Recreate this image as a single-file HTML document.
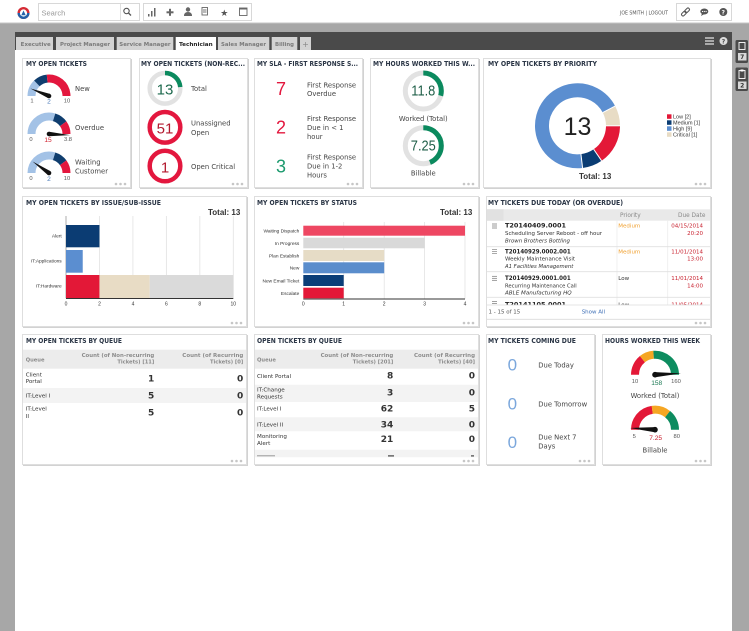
<!DOCTYPE html>
<html><head><meta charset="utf-8"><title>Dashboard</title>
<style>
html,body{margin:0;padding:0;background:#fff;overflow:hidden}
svg{display:block}
text{font-family:"DejaVu Sans","Liberation Sans",sans-serif;fill:#444}
.t{font-weight:bold;font-size:6.8px;fill:#2b3646}
.l{font-size:6.8px;fill:#444}
.a{font-family:"Liberation Sans",sans-serif;font-size:5px;fill:#333}
.g{font-family:"Liberation Sans",sans-serif;font-size:5.8px;fill:#555}
.gv{font-family:"Liberation Sans",sans-serif;font-size:6.6px}
.tab{font-weight:bold;font-size:5.3px;fill:#7a7a7a}
.hd{font-weight:bold;font-size:5.2px;fill:#8c8c8c}
.q{font-size:5.6px;fill:#333}
.n{font-weight:bold;font-size:9px;fill:#333}
.tot{font-family:"Liberation Sans",sans-serif;font-weight:bold;font-size:8px;fill:#333}
.id{font-weight:bold;font-size:6.2px;fill:#222}
.d{font-size:5.2px;fill:#333}
.di{font-size:5.2px;fill:#333;font-style:italic}
.p{font-size:5.5px}
.big{font-family:"Liberation Sans",sans-serif}
</style></head><body>
<svg width="749" height="631" viewBox="0 0 749 631" xmlns="http://www.w3.org/2000/svg">
<!-- backgrounds -->
<rect width="749" height="631" fill="#a7a7a7"/>
<rect x="0" y="0" width="749" height="23" fill="#fff"/>
<rect x="0" y="22.5" width="749" height="1" fill="#c6c6c6"/>
<rect x="15" y="32" width="717" height="18" fill="#4a4a4a"/>
<rect x="15" y="50" width="717" height="581" fill="#fff"/>

<!-- top bar -->
<circle cx="23.5" cy="13" r="6" fill="#d52b35"/>
<path d="M17.5 13 A6 6 0 0 0 29.5 13 Z" fill="#2460a8"/>
<circle cx="23.5" cy="13" r="3.6" fill="#fff"/>
<path d="M21.3 15.3 L23.5 10.5 L25.7 15.3 Z" fill="#2460a8"/>
<rect x="38.5" y="3.5" width="101" height="17" fill="#fff" stroke="#d8d8d8"/>
<text x="41.5" y="15.5" style="font-family:'Liberation Sans',sans-serif;font-size:7.5px;fill:#9a9a9a">Search</text>
<line x1="120.5" y1="4" x2="120.5" y2="20" stroke="#e0e0e0"/>
<circle cx="126.5" cy="11" r="2.7" fill="none" stroke="#555" stroke-width="1.1"/>
<line x1="128.5" y1="13" x2="131" y2="15.5" stroke="#555" stroke-width="1.3"/>
<rect x="143.5" y="3.5" width="108" height="17" fill="#fff" stroke="#d8d8d8"/>
<g fill="#666">
<rect x="148" y="14" width="1.5" height="2.5"/><rect x="151" y="11" width="1.5" height="5.5"/><rect x="154" y="8" width="1.5" height="8.5"/>
<rect x="166.5" y="11.3" width="7" height="2"/><rect x="169" y="8.8" width="2" height="7"/>
<circle cx="188" cy="9.5" r="2.2"/><path d="M184 16 Q184 12 188 12 Q192 12 192 16 Z"/>
<rect x="239.5" y="8" width="7.5" height="1.5"/>
</g>
<g fill="none" stroke="#666" stroke-width="0.9">
<rect x="202" y="7.5" width="5.5" height="7.5"/><line x1="203" y1="10" x2="206.5" y2="10"/><line x1="203" y1="12" x2="206.5" y2="12"/>
<rect x="239.5" y="8" width="7.5" height="7.5"/>
</g>
<text x="224.3" y="16" text-anchor="middle" style="font-size:9px;fill:#555">★</text>
<text x="620" y="14.5" textLength="48" lengthAdjust="spacingAndGlyphs" style="font-size:4.8px;fill:#555">JOE SMITH | LOGOUT</text>
<rect x="676.5" y="3.5" width="55" height="17" fill="#fff" stroke="#d8d8d8"/>
<g transform="translate(685.5 12) rotate(-45)" fill="none" stroke="#555" stroke-width="1"><rect x="-5" y="-1.5" width="5.5" height="3" rx="1.5"/><rect x="-0.5" y="-1.5" width="5.5" height="3" rx="1.5"/></g>
<ellipse cx="704.3" cy="11.5" rx="4" ry="3" fill="#555"/><path d="M702 13.5 L701 16 L704.5 14 Z" fill="#555"/>
<circle cx="702.5" cy="11.5" r="0.6" fill="#fff"/><circle cx="704.3" cy="11.5" r="0.6" fill="#fff"/><circle cx="706.1" cy="11.5" r="0.6" fill="#fff"/>
<circle cx="723.3" cy="12" r="4" fill="#555"/>
<text x="723.3" y="14.3" text-anchor="middle" style="font-size:6px;font-weight:bold;fill:#fff">?</text>

<!-- tabs -->
<rect x="16" y="37" width="37" height="13" fill="#d3d3d3"/>
<rect x="56" y="37" width="58" height="13" fill="#d3d3d3"/>
<rect x="116.7" y="37" width="56.6" height="13" fill="#d3d3d3"/>
<rect x="175.7" y="37" width="40.3" height="13" fill="#fff"/>
<rect x="218" y="37" width="51.3" height="13" fill="#d3d3d3"/>
<rect x="271.7" y="37" width="25.6" height="13" fill="#d3d3d3"/>
<rect x="300" y="37" width="11" height="13" fill="#d3d3d3"/>
<text class="tab" x="20.7" y="46" textLength="30" lengthAdjust="spacingAndGlyphs">Executive</text>
<text class="tab" x="60" y="46" textLength="50" lengthAdjust="spacingAndGlyphs">Project Manager</text>
<text class="tab" x="119.3" y="46" textLength="51.3" lengthAdjust="spacingAndGlyphs">Service Manager</text>
<text class="tab" x="179" y="46" textLength="33.7" lengthAdjust="spacingAndGlyphs" style="fill:#222">Technician</text>
<text class="tab" x="221" y="46" textLength="45" lengthAdjust="spacingAndGlyphs">Sales Manager</text>
<text class="tab" x="275" y="46" textLength="19" lengthAdjust="spacingAndGlyphs">Billing</text>
<text x="305.5" y="47" text-anchor="middle" style="font-size:8px;fill:#888">+</text>
<g stroke="#dcdcdc" stroke-width="1.3"><line x1="705" y1="38" x2="714" y2="38"/><line x1="705" y1="41" x2="714" y2="41"/><line x1="705" y1="44" x2="714" y2="44"/></g>
<circle cx="723.5" cy="41" r="4" fill="#dcdcdc"/>
<text x="723.5" y="43.3" text-anchor="middle" style="font-size:6px;font-weight:bold;fill:#4a4a4a">?</text>

<!-- right strip icons -->
<rect x="735.5" y="40" width="12.5" height="23" rx="1.5" fill="#4a4a4a"/>
<rect x="739" y="42.5" width="6" height="7" fill="none" stroke="#fff" stroke-width="0.9"/>
<rect x="738" y="53" width="8.5" height="7.5" fill="#d8d8d8"/>
<text x="742.2" y="59.2" text-anchor="middle" style="font-size:6px;font-weight:bold;fill:#333">7</text>
<rect x="735.5" y="67.5" width="12.5" height="23.5" rx="1.5" fill="#4a4a4a"/>
<rect x="739" y="70.5" width="6" height="8" fill="none" stroke="#fff" stroke-width="0.9"/>
<rect x="740.5" y="69.5" width="3" height="2" fill="#fff"/>
<rect x="738" y="81.5" width="8.5" height="7.5" fill="#d8d8d8"/>
<text x="742.2" y="87.7" text-anchor="middle" style="font-size:6px;font-weight:bold;fill:#333">2</text>

<!-- widget frames -->
<g fill="#d2d2d2">
<rect x="23" y="59" width="109" height="130"/><rect x="140" y="59" width="109" height="130"/>
<rect x="255" y="59" width="109" height="130"/><rect x="371" y="59" width="109" height="130"/>
<rect x="484" y="59" width="228" height="130"/>
<rect x="23" y="197" width="225" height="131"/><rect x="255" y="197" width="225" height="131"/>
<rect x="487" y="197" width="225" height="131"/>
<rect x="23" y="335" width="225" height="131"/><rect x="255" y="335" width="225" height="131"/>
<rect x="487" y="335" width="109" height="131"/><rect x="603" y="335" width="109" height="131"/>
</g>
<g fill="#fff" stroke="#dedede">
<rect x="22.5" y="58.5" width="108" height="129"/><rect x="139.5" y="58.5" width="108" height="129"/>
<rect x="254.5" y="58.5" width="108" height="129"/><rect x="370.5" y="58.5" width="108" height="129"/>
<rect x="483.5" y="58.5" width="227" height="129"/>
<rect x="22.5" y="196.5" width="224" height="130"/><rect x="254.5" y="196.5" width="224" height="130"/>
<rect x="486.5" y="196.5" width="224" height="130"/>
<rect x="22.5" y="334.5" width="224" height="130"/><rect x="254.5" y="334.5" width="224" height="130"/>
<rect x="486.5" y="334.5" width="108" height="130"/><rect x="602.5" y="334.5" width="108" height="130"/>
</g>

<!-- dots -->
<g fill="#c6c6c6">
<circle cx="116" cy="184" r="1.3"/><circle cx="120.5" cy="184" r="1.3"/><circle cx="125" cy="184" r="1.3"/>
<circle cx="233" cy="184" r="1.3"/><circle cx="237.5" cy="184" r="1.3"/><circle cx="242" cy="184" r="1.3"/>
<circle cx="348" cy="184" r="1.3"/><circle cx="352.5" cy="184" r="1.3"/><circle cx="357" cy="184" r="1.3"/>
<circle cx="464" cy="184" r="1.3"/><circle cx="468.5" cy="184" r="1.3"/><circle cx="473" cy="184" r="1.3"/>
<circle cx="696" cy="184" r="1.3"/><circle cx="700.5" cy="184" r="1.3"/><circle cx="705" cy="184" r="1.3"/>
<circle cx="232" cy="323" r="1.3"/><circle cx="236.5" cy="323" r="1.3"/><circle cx="241" cy="323" r="1.3"/>
<circle cx="464" cy="323" r="1.3"/><circle cx="468.5" cy="323" r="1.3"/><circle cx="473" cy="323" r="1.3"/>
<circle cx="696" cy="323" r="1.3"/><circle cx="700.5" cy="323" r="1.3"/><circle cx="705" cy="323" r="1.3"/>
<circle cx="232" cy="461" r="1.3"/><circle cx="236.5" cy="461" r="1.3"/><circle cx="241" cy="461" r="1.3"/>
<circle cx="464" cy="461" r="1.3"/><circle cx="468.5" cy="461" r="1.3"/><circle cx="473" cy="461" r="1.3"/>
<circle cx="580" cy="461" r="1.3"/><circle cx="584.5" cy="461" r="1.3"/><circle cx="589" cy="461" r="1.3"/>
<circle cx="696" cy="461" r="1.3"/><circle cx="700.5" cy="461" r="1.3"/><circle cx="705" cy="461" r="1.3"/>
</g>

<!-- titles -->
<text class="t" x="26" y="66" textLength="61" lengthAdjust="spacingAndGlyphs">MY OPEN TICKETS</text>
<text class="t" x="141" y="66" textLength="104" lengthAdjust="spacingAndGlyphs">MY OPEN TICKETS (NON-REC...</text>
<text class="t" x="257" y="66" textLength="101" lengthAdjust="spacingAndGlyphs">MY SLA - FIRST RESPONSE S...</text>
<text class="t" x="373" y="66" textLength="102" lengthAdjust="spacingAndGlyphs">MY HOURS WORKED THIS W...</text>
<text class="t" x="488" y="66" textLength="109" lengthAdjust="spacingAndGlyphs">MY OPEN TICKETS BY PRIORITY</text>
<text class="t" x="26" y="205" textLength="135" lengthAdjust="spacingAndGlyphs">MY OPEN TICKETS BY ISSUE/SUB-ISSUE</text>
<text class="t" x="257" y="205" textLength="100" lengthAdjust="spacingAndGlyphs">MY OPEN TICKETS BY STATUS</text>
<text class="t" x="488" y="205" textLength="135" lengthAdjust="spacingAndGlyphs">MY TICKETS DUE TODAY (OR OVERDUE)</text>
<text class="t" x="26" y="343" textLength="96" lengthAdjust="spacingAndGlyphs">MY OPEN TICKETS BY QUEUE</text>
<text class="t" x="257" y="343" textLength="85" lengthAdjust="spacingAndGlyphs">OPEN TICKETS BY QUEUE</text>
<text class="t" x="488" y="343" textLength="88" lengthAdjust="spacingAndGlyphs">MY TICKETS COMING DUE</text>
<text class="t" x="605" y="343" textLength="95" lengthAdjust="spacingAndGlyphs">HOURS WORKED THIS WEEK</text>

<!-- W1 gauges -->
<g fill="none" stroke-width="8">
<circle cx="49" cy="96" r="17.5" stroke="#a3c2e6" stroke-dasharray="14.05 200" transform="rotate(180 49 96)"/>
<circle cx="49" cy="96" r="17.5" stroke="#0f3d6e" stroke-dasharray="11.61 200" transform="rotate(226 49 96)"/>
<circle cx="49" cy="96" r="17.5" stroke="#e3173e" stroke-dasharray="29.32 200" transform="rotate(264 49 96)"/>
<circle cx="49" cy="134" r="17.5" stroke="#a3c2e6" stroke-dasharray="32.68 200" transform="rotate(180 49 134)"/>
<circle cx="49" cy="134" r="17.5" stroke="#0f3d6e" stroke-dasharray="11.30 200" transform="rotate(287 49 134)"/>
<circle cx="49" cy="134" r="17.5" stroke="#e3173e" stroke-dasharray="11.0 200" transform="rotate(324 49 134)"/>
<circle cx="49" cy="173" r="17.5" stroke="#a3c2e6" stroke-dasharray="32.68 200" transform="rotate(180 49 173)"/>
<circle cx="49" cy="173" r="17.5" stroke="#0f3d6e" stroke-dasharray="11.30 200" transform="rotate(287 49 173)"/>
<circle cx="49" cy="173" r="17.5" stroke="#e3173e" stroke-dasharray="11.0 200" transform="rotate(324 49 173)"/>
</g>
<g fill="#111">
<g transform="translate(49 96) rotate(-158)"><polygon points="0,-2.3 20,0 0,2.3"/><circle r="2.3"/></g>
<g transform="translate(49 134) rotate(3)"><polygon points="0,-2.3 21,0 0,2.3"/><circle r="2.3"/></g>
<g transform="translate(49 173) rotate(-145)"><polygon points="0,-2.3 20,0 0,2.3"/><circle r="2.3"/></g>
</g>
<text class="g" x="32" y="102.7" text-anchor="middle">1</text>
<text class="gv" x="49" y="103.5" text-anchor="middle" style="fill:#4a7ab8">2</text>
<text class="g" x="67" y="102.7" text-anchor="middle">10</text>
<text class="g" x="31" y="141" text-anchor="middle">0</text>
<text class="gv" x="48" y="142" text-anchor="middle" style="fill:#d0202e">15</text>
<text class="g" x="68" y="141" text-anchor="middle">3.8</text>
<text class="g" x="31" y="180" text-anchor="middle">0</text>
<text class="gv" x="49" y="181" text-anchor="middle" style="fill:#4a7ab8">2</text>
<text class="g" x="67" y="180" text-anchor="middle">10</text>
<text class="l" x="75" y="91">New</text>
<text class="l" x="75" y="130">Overdue</text>
<text class="l" x="75" y="164.3">Waiting</text>
<text class="l" x="75" y="173.3">Customer</text>

<!-- W2 rings -->
<g fill="none" stroke-width="4.5">
<circle cx="165" cy="88.3" r="15.3" stroke="#e2e2e2"/>
<circle cx="165" cy="88.3" r="15.3" stroke="#0b8a5e" stroke-dasharray="22.7 200" transform="rotate(-90 165 88.3)"/>
<circle cx="165" cy="127.3" r="15.3" stroke="#e3173e"/>
<circle cx="165" cy="166" r="15.3" stroke="#e3173e"/>
</g>
<text class="big" x="165" y="94.3" text-anchor="middle" style="font-size:15px;fill:#1e6a4e">13</text>
<text class="big" x="165" y="133.6" text-anchor="middle" style="font-size:15px;fill:#b3192f">51</text>
<text class="big" x="165" y="172.3" text-anchor="middle" style="font-size:15px;fill:#b3192f">1</text>
<text class="l" x="191" y="91">Total</text>
<text class="l" x="191" y="125.7">Unassigned</text>
<text class="l" x="191" y="135">Open</text>
<text class="l" x="191" y="169">Open Critical</text>

<!-- W3 SLA -->
<text class="big" x="281" y="95" text-anchor="middle" style="font-size:18px;fill:#e3173e">7</text>
<text class="big" x="281" y="133.3" text-anchor="middle" style="font-size:18px;fill:#e3173e">2</text>
<text class="big" x="281" y="172.3" text-anchor="middle" style="font-size:18px;fill:#1c9a6e">3</text>
<text class="l" x="307" y="87.3">First Response</text>
<text class="l" x="307" y="96">Overdue</text>
<text class="l" x="307" y="121">First Response</text>
<text class="l" x="307" y="130">Due in &lt; 1</text>
<text class="l" x="307" y="139">hour</text>
<text class="l" x="307" y="159.3">First Response</text>
<text class="l" x="307" y="168.3">Due in 1-2</text>
<text class="l" x="307" y="177.3">Hours</text>

<!-- W4 hours rings -->
<g fill="none" stroke-width="5">
<circle cx="423.3" cy="91" r="18" stroke="#e2e2e2"/>
<circle cx="423.3" cy="91" r="18" stroke="#0b8a5e" stroke-dasharray="32.99 200" transform="rotate(-90 423.3 91)"/>
<circle cx="423.3" cy="145.7" r="18" stroke="#e2e2e2"/>
<circle cx="423.3" cy="145.7" r="18" stroke="#0b8a5e" stroke-dasharray="49.64 200" transform="rotate(-90 423.3 145.7)"/>
</g>
<text class="big" x="423.3" y="95.7" text-anchor="middle" textLength="24" lengthAdjust="spacingAndGlyphs" style="font-size:14.5px;fill:#1e5e47">11.8</text>
<text class="big" x="423.3" y="150.5" text-anchor="middle" textLength="25" lengthAdjust="spacingAndGlyphs" style="font-size:14.5px;fill:#1e5e47">7.25</text>
<text class="l" x="423.3" y="121" text-anchor="middle">Worked (Total)</text>
<text class="l" x="423.3" y="175.7" text-anchor="middle">Billable</text>

<!-- W5 donut -->
<g fill="none" stroke-width="14">
<circle cx="577.5" cy="125.8" r="35.5" stroke="#5b8ed0" stroke-dasharray="154.4 400" transform="rotate(83.1 577.5 125.8)"/>
<circle cx="577.5" cy="125.8" r="35.5" stroke="#e8dcc5" stroke-dasharray="17.16 400" transform="rotate(332.3 577.5 125.8)"/>
<circle cx="577.5" cy="125.8" r="35.5" stroke="#e31837" stroke-dasharray="34.33 400" transform="rotate(0 577.5 125.8)"/>
<circle cx="577.5" cy="125.8" r="35.5" stroke="#0a3c73" stroke-dasharray="17.16 400" transform="rotate(55.4 577.5 125.8)"/>
</g>
<g stroke="#fff" stroke-width="1">
<line x1="602.73" y1="112.55" x2="615.13" y2="106.05"/>
<line x1="606" y1="125.8" x2="620" y2="125.8"/>
<line x1="593.68" y1="149.26" x2="601.63" y2="160.78"/>
<line x1="580.92" y1="154.09" x2="582.6" y2="168"/>
</g>
<text class="big" x="577.5" y="135" text-anchor="middle" style="font-size:25px;fill:#222">13</text>
<text class="tot" x="579" y="179">Total:  13</text>
<rect x="667" y="114.3" width="4.5" height="4.5" fill="#e31837"/>
<rect x="667" y="120.3" width="4.5" height="4.5" fill="#0a3c73"/>
<rect x="667" y="126.3" width="4.5" height="4.5" fill="#5b8ed0"/>
<rect x="667" y="132.3" width="4.5" height="4.5" fill="#e8dcc5"/>
<text class="a" x="673" y="118.5" style="font-size:5.5px">Low [2]</text>
<text class="a" x="673" y="124.5" style="font-size:5.5px">Medium [1]</text>
<text class="a" x="673" y="130.5" style="font-size:5.5px">High [9]</text>
<text class="a" x="673" y="136.5" style="font-size:5.5px">Critical [1]</text>

<!-- W6 issue chart -->
<text class="tot" x="208" y="215">Total:  13</text>
<g stroke="#e2e2e2" stroke-width="0.8">
<line x1="99.46" y1="216" x2="99.46" y2="298"/><line x1="132.92" y1="216" x2="132.92" y2="298"/>
<line x1="166.38" y1="216" x2="166.38" y2="298"/><line x1="199.84" y1="216" x2="199.84" y2="298"/>
<line x1="233.3" y1="216" x2="233.3" y2="298"/>
</g>
<line x1="66" y1="216" x2="66" y2="298.3" stroke="#999" stroke-width="0.8"/>
<rect x="66" y="225" width="33.46" height="22.3" fill="#0b3c73"/>
<rect x="66" y="250" width="16.73" height="22.7" fill="#5b8ed0"/>
<rect x="66" y="275" width="33.46" height="23.3" fill="#e31837"/>
<rect x="99.46" y="275" width="50.19" height="23.3" fill="#e8dcc5"/>
<rect x="149.65" y="275" width="83.65" height="23.3" fill="#dadada"/>
<line x1="66" y1="298.5" x2="233.3" y2="298.5" stroke="#333" stroke-width="1"/>
<text class="a" x="61.7" y="237.3" text-anchor="end" style="font-size:4.8px">Alert</text>
<text class="a" x="61.7" y="262.3" text-anchor="end" style="font-size:4.8px">IT:Applications</text>
<text class="a" x="61.7" y="287.3" text-anchor="end" style="font-size:4.8px">IT:Hardware</text>
<text class="a" x="66" y="305.7" text-anchor="middle">0</text>
<text class="a" x="99.5" y="305.7" text-anchor="middle">2</text>
<text class="a" x="133" y="305.7" text-anchor="middle">4</text>
<text class="a" x="166.4" y="305.7" text-anchor="middle">6</text>
<text class="a" x="199.8" y="305.7" text-anchor="middle">8</text>
<text class="a" x="233.3" y="305.7" text-anchor="middle">10</text>

<!-- W7 status chart -->
<text class="tot" x="440" y="215">Total:  13</text>
<g stroke="#e2e2e2" stroke-width="0.8">
<line x1="343.7" y1="222" x2="343.7" y2="299"/><line x1="384.2" y1="222" x2="384.2" y2="299"/>
<line x1="424.6" y1="222" x2="424.6" y2="299"/><line x1="465" y1="222" x2="465" y2="299"/>
</g>
<rect x="303.3" y="225.7" width="161.7" height="10" fill="#ee4762"/>
<rect x="303.3" y="237.7" width="121.3" height="10.6" fill="#d9d9d9"/>
<rect x="303.3" y="250" width="80.9" height="11" fill="#e6dcc6"/>
<rect x="303.3" y="262.3" width="80.9" height="11" fill="#5a8dcc"/>
<rect x="303.3" y="275" width="40.4" height="11" fill="#0b3e78"/>
<rect x="303.3" y="287.7" width="40.4" height="10.6" fill="#e31837"/>
<line x1="303.3" y1="299" x2="465" y2="299" stroke="#333" stroke-width="1"/>
<text class="a" x="299.3" y="232.5" text-anchor="end" style="font-size:4.8px">Waiting Dispatch</text>
<text class="a" x="299.3" y="244.8" text-anchor="end" style="font-size:4.8px">In Progress</text>
<text class="a" x="299.3" y="257.3" text-anchor="end" style="font-size:4.8px">Plan Establish</text>
<text class="a" x="299.3" y="269.5" text-anchor="end" style="font-size:4.8px">New</text>
<text class="a" x="299.3" y="282.3" text-anchor="end" style="font-size:4.8px">New Email Ticket</text>
<text class="a" x="299.3" y="294.8" text-anchor="end" style="font-size:4.8px">Escalate</text>
<text class="a" x="303.3" y="305.5" text-anchor="middle">0</text>
<text class="a" x="343.7" y="305.5" text-anchor="middle">1</text>
<text class="a" x="384.2" y="305.5" text-anchor="middle">2</text>
<text class="a" x="424.6" y="305.5" text-anchor="middle">3</text>
<text class="a" x="465" y="305.5" text-anchor="middle">4</text>

<!-- W8 due today table -->
<rect x="487" y="209.3" width="223" height="11.4" fill="#e9e9e9"/>
<rect x="487" y="209.3" width="16.5" height="11.4" fill="#e1e1e1"/>
<text x="620" y="217" style="font-size:5.8px;fill:#888">Priority</text>
<text x="678" y="217" style="font-size:5.8px;fill:#888">Due Date</text>
<clipPath id="c8"><rect x="487" y="220.7" width="223" height="84.3"/></clipPath>
<g clip-path="url(#c8)">
<g stroke="#ececec" stroke-width="0.8"><line x1="617" y1="209" x2="617" y2="305"/><line x1="667.7" y1="209" x2="667.7" y2="305"/></g>
<g stroke="#e0e0e0" stroke-width="0.8"><line x1="487" y1="246.7" x2="710" y2="246.7"/><line x1="487" y1="271.7" x2="710" y2="271.7"/><line x1="487" y1="297.3" x2="710" y2="297.3"/></g>
<g stroke="#777" stroke-width="0.7">
<line x1="492" y1="224" x2="497" y2="224"/><line x1="492" y1="226" x2="497" y2="226"/><line x1="492" y1="228" x2="497" y2="228"/>
<line x1="492" y1="249.7" x2="497" y2="249.7"/><line x1="492" y1="251.7" x2="497" y2="251.7"/><line x1="492" y1="253.7" x2="497" y2="253.7"/>
<line x1="492" y1="276.3" x2="497" y2="276.3"/><line x1="492" y1="278.3" x2="497" y2="278.3"/><line x1="492" y1="280.3" x2="497" y2="280.3"/>
<line x1="492" y1="301.5" x2="497" y2="301.5"/><line x1="492" y1="303.5" x2="497" y2="303.5"/>
</g>
<text class="id" x="505" y="227.7" textLength="61" lengthAdjust="spacingAndGlyphs">T20140409.0001</text>
<text class="d" x="505" y="235" textLength="97" lengthAdjust="spacingAndGlyphs">Scheduling Server Reboot - off hour</text>
<text class="di" x="505" y="242.3" textLength="65" lengthAdjust="spacingAndGlyphs">Brown Brothers Bottling</text>
<text class="p" x="618.3" y="227.7" style="fill:#f0a030">Medium</text>
<text class="p" x="703" y="227.7" text-anchor="end" style="fill:#c8202e">04/15/2014</text>
<text class="p" x="703" y="235" text-anchor="end" style="fill:#c8202e">20:20</text>
<text class="id" x="505" y="253.3" textLength="65.7" lengthAdjust="spacingAndGlyphs">T20140929.0002.001</text>
<text class="d" x="505" y="260.7" textLength="70" lengthAdjust="spacingAndGlyphs">Weekly Maintenance Visit</text>
<text class="di" x="505" y="268" textLength="68.3" lengthAdjust="spacingAndGlyphs">A1 Facilities Management</text>
<text class="p" x="618.3" y="253.3" style="fill:#f0a030">Medium</text>
<text class="p" x="703" y="253.3" text-anchor="end" style="fill:#c8202e">11/01/2014</text>
<text class="p" x="703" y="260.7" text-anchor="end" style="fill:#c8202e">13:00</text>
<text class="id" x="505" y="280" textLength="65.7" lengthAdjust="spacingAndGlyphs">T20140929.0001.001</text>
<text class="d" x="505" y="287.3" textLength="71.7" lengthAdjust="spacingAndGlyphs">Recurring Maintenance Call</text>
<text class="di" x="505" y="294.7" textLength="66.7" lengthAdjust="spacingAndGlyphs">ABLE Manufacturing HQ</text>
<text class="p" x="618.3" y="280" style="fill:#333">Low</text>
<text class="p" x="703" y="280" text-anchor="end" style="fill:#c8202e">11/01/2014</text>
<text class="p" x="703" y="287.3" text-anchor="end" style="fill:#c8202e">14:00</text>
<text class="id" x="505" y="306.5" textLength="61" lengthAdjust="spacingAndGlyphs">T20141105.0001</text>
<text class="p" x="618.3" y="306.5" style="fill:#333">Low</text>
<text class="p" x="703" y="306.5" text-anchor="end" style="fill:#c8202e">11/05/2014</text>
</g>
<line x1="487" y1="305" x2="710" y2="305" stroke="#dcdcdc" stroke-width="0.8"/>
<line x1="487" y1="319.3" x2="710" y2="319.3" stroke="#dcdcdc" stroke-width="0.8"/>
<text x="488.5" y="313.5" style="font-size:5.5px;fill:#555">1 - 15 of 15</text>
<text x="581.7" y="313.5" style="font-size:5.5px;fill:#3b6db5">Show All</text>

<!-- W9 queue table -->
<rect x="23" y="349.7" width="223" height="19" fill="#ececec"/>
<rect x="23" y="388" width="223" height="15" fill="#f3f3f3"/>
<text class="hd" x="25.7" y="361.3">Queue</text>
<text class="hd" x="154.3" y="357" text-anchor="end" textLength="72.7" lengthAdjust="spacingAndGlyphs">Count (of Non-recurring</text>
<text class="hd" x="154.3" y="363.7" text-anchor="end">Tickets) [11]</text>
<text class="hd" x="243.3" y="357" text-anchor="end" textLength="61" lengthAdjust="spacingAndGlyphs">Count (of Recurring</text>
<text class="hd" x="243.3" y="363.7" text-anchor="end">Tickets) [0]</text>
<text class="q" x="25.7" y="376.3">Client</text>
<text class="q" x="25.7" y="383">Portal</text>
<text class="q" x="25.7" y="397.3">IT:Level I</text>
<text class="q" x="25.7" y="410.7">IT:Level</text>
<text class="q" x="25.7" y="418">II</text>
<text class="n" x="154.3" y="381.3" text-anchor="end">1</text>
<text class="n" x="243.3" y="381.3" text-anchor="end">0</text>
<text class="n" x="154.3" y="398.5" text-anchor="end">5</text>
<text class="n" x="243.3" y="398.5" text-anchor="end">0</text>
<text class="n" x="154.3" y="415.5" text-anchor="end">5</text>
<text class="n" x="243.3" y="415.5" text-anchor="end">0</text>

<!-- W10 queue table -->
<rect x="255" y="349.7" width="223" height="19" fill="#ececec"/>
<rect x="255" y="384.7" width="223" height="17.3" fill="#f3f3f3"/>
<rect x="255" y="417.3" width="223" height="14" fill="#f3f3f3"/>
<rect x="255" y="449.7" width="223" height="7.6" fill="#f3f3f3"/>
<text class="hd" x="257" y="361.3">Queue</text>
<text class="hd" x="393.3" y="357" text-anchor="end" textLength="72.7" lengthAdjust="spacingAndGlyphs">Count (of Non-recurring</text>
<text class="hd" x="393.3" y="363.7" text-anchor="end">Tickets) [201]</text>
<text class="hd" x="475" y="357" text-anchor="end" textLength="61" lengthAdjust="spacingAndGlyphs">Count (of Recurring</text>
<text class="hd" x="475" y="363.7" text-anchor="end">Tickets) [40]</text>
<text class="q" x="257" y="378">Client Portal</text>
<text class="q" x="257" y="391.3">IT:Change</text>
<text class="q" x="257" y="398.7">Requests</text>
<text class="q" x="257" y="410.7">IT:Level I</text>
<text class="q" x="257" y="426.3">IT:Level II</text>
<text class="q" x="257" y="438">Monitoring</text>
<text class="q" x="257" y="445">Alert</text>
<text class="n" x="393.3" y="378.7" text-anchor="end">8</text>
<text class="n" x="475" y="378.7" text-anchor="end">0</text>
<text class="n" x="393.3" y="395.5" text-anchor="end">3</text>
<text class="n" x="475" y="395.5" text-anchor="end">0</text>
<text class="n" x="393.3" y="411.5" text-anchor="end">62</text>
<text class="n" x="475" y="411.5" text-anchor="end">5</text>
<text class="n" x="393.3" y="427.5" text-anchor="end">34</text>
<text class="n" x="475" y="427.5" text-anchor="end">0</text>
<text class="n" x="393.3" y="442" text-anchor="end">21</text>
<text class="n" x="475" y="442" text-anchor="end">0</text>
<rect x="388" y="455.3" width="6" height="1.2" fill="#444"/>
<rect x="471" y="455.3" width="3" height="1.2" fill="#444"/>
<rect x="257" y="455.3" width="18" height="1" fill="#999"/>

<!-- W11 coming due -->
<text class="big" x="512.3" y="370.7" text-anchor="middle" style="font-size:17px;fill:#7ba7dc">0</text>
<text class="big" x="512.3" y="409.7" text-anchor="middle" style="font-size:17px;fill:#7ba7dc">0</text>
<text class="big" x="512.3" y="448" text-anchor="middle" style="font-size:17px;fill:#7ba7dc">0</text>
<text class="l" x="538.3" y="367.3">Due Today</text>
<text class="l" x="538.3" y="406.3">Due Tomorrow</text>
<text class="l" x="538.3" y="439.7">Due Next 7</text>
<text class="l" x="538.3" y="448.7">Days</text>

<!-- W12 gauges -->
<g fill="none" stroke-width="8">
<circle cx="655" cy="374.7" r="20" stroke="#e31837" stroke-dasharray="17.8 200" transform="rotate(180 655 374.7)"/>
<circle cx="655" cy="374.7" r="20" stroke="#f5a623" stroke-dasharray="12.2 200" transform="rotate(231 655 374.7)"/>
<circle cx="655" cy="374.7" r="20" stroke="#0d8c5f" stroke-dasharray="32.8 200" transform="rotate(266 655 374.7)"/>
<circle cx="655" cy="429.7" r="20" stroke="#e31837" stroke-dasharray="28.6 200" transform="rotate(180 655 429.7)"/>
<circle cx="655" cy="429.7" r="20" stroke="#f5a623" stroke-dasharray="16.4 200" transform="rotate(262 655 429.7)"/>
<circle cx="655" cy="429.7" r="20" stroke="#0d8c5f" stroke-dasharray="17.8 200" transform="rotate(309 655 429.7)"/>
</g>
<g fill="#111">
<g transform="translate(655 374.7) rotate(-3)"><polygon points="0,-2.6 26,0 0,2.6"/><circle r="2.8"/></g>
<g transform="translate(655 429.7) rotate(-176)"><polygon points="0,-2.6 25,0 0,2.6"/><circle r="2.8"/></g>
</g>
<text class="g" x="635" y="383" text-anchor="middle">10</text>
<text class="gv" x="656.7" y="385" text-anchor="middle" style="fill:#1d7a55">158</text>
<text class="g" x="676" y="383" text-anchor="middle">160</text>
<text class="l" x="655" y="398" text-anchor="middle">Worked (Total)</text>
<text class="g" x="634.3" y="438" text-anchor="middle">5</text>
<text class="gv" x="655.7" y="440" text-anchor="middle" style="fill:#c8202e">7.25</text>
<text class="g" x="676.7" y="438" text-anchor="middle">80</text>
<text class="l" x="655" y="452.3" text-anchor="middle">Billable</text>
</svg>
</body></html>
